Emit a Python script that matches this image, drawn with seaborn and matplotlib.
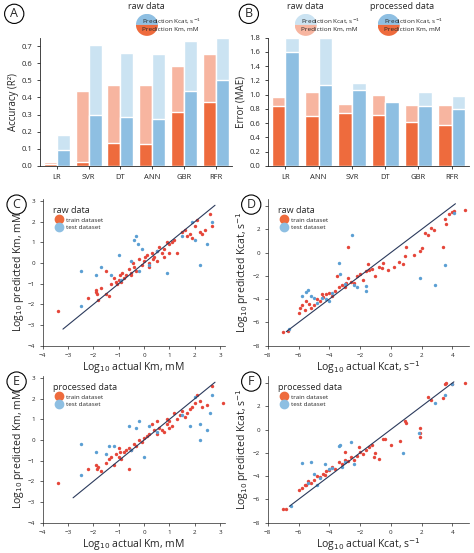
import numpy as np
import pandas as pd
import matplotlib
matplotlib.use("Agg")
import matplotlib.pyplot as plt
import seaborn as sns
from matplotlib.patches import Wedge
from matplotlib.lines import Line2D

sns.set_style("ticks")
plt.rcParams['font.family'] = ['Open Sans', 'DejaVu Sans']

# ---- data ----
models_A = ["LR", "SVR", "DT", "ANN", "GBR", "RFR"]
acc_km_raw = [0.01, 0.02, 0.135, 0.13, 0.315, 0.375]
acc_km_proc = [0.02, 0.435, 0.475, 0.475, 0.585, 0.655]
acc_kcat_raw = [0.095, 0.295, 0.285, 0.275, 0.435, 0.50]
acc_kcat_proc = [0.18, 0.705, 0.66, 0.655, 0.73, 0.75]

models_B = ["LR", "ANN", "SVR", "DT", "GBR", "RFR"]
mae_km_raw = [0.97, 1.04, 0.87, 0.99, 0.85, 0.85]
mae_km_proc = [0.84, 0.70, 0.74, 0.72, 0.62, 0.58]
mae_kcat_raw = [1.8, 1.8, 1.16, 0.90, 1.04, 0.98]
mae_kcat_proc = [1.6, 1.13, 1.06, 0.90, 0.84, 0.80]

c_train_x = [-3.4,-2.2,-1.9,-1.85,-1.8,-1.9,-1.7,-1.5,-1.4,-1.3,-1.2,-1.1,-1.05,-1.0,-0.95,-0.9,-0.85,-0.8,-0.7,-0.6,-0.5,-0.45,-0.4,-0.3,-0.2,-0.1,0.0,0.05,0.1,0.2,0.3,0.35,0.4,0.5,0.6,0.7,0.8,0.9,1.0,1.1,1.2,1.3,1.5,1.6,1.7,1.8,1.9,2.0,2.1,2.2,2.3,2.4,2.6,2.7,-0.5,0.2,0.5,1.0,-1.5,0.8]
c_train_y = [-2.3,-1.7,-1.3,-1.5,-1.8,-1.4,-1.2,-1.5,-1.6,-1.0,-0.7,-0.9,-1.0,-0.8,-0.6,-0.9,-0.5,-0.7,-0.6,-0.3,-0.5,0.0,-0.2,-0.4,0.2,-0.1,0.1,0.3,0.4,0.0,0.5,0.2,0.3,0.6,0.8,0.5,0.3,1.0,0.9,1.0,1.1,0.5,1.5,1.6,1.3,1.4,1.2,1.8,2.1,1.5,1.4,1.6,2.4,1.8,-0.6,-0.2,0.1,0.5,-0.4,0.7]
c_test_x = [-2.5,-2.5,-1.7,-1.9,-1.3,-1.0,-0.9,-0.4,-0.3,-0.25,-0.2,0.2,0.5,0.9,1.5,1.9,2.0,2.2,2.5,2.7,-0.5,-0.1]
c_test_y = [-0.4,-2.1,-0.2,-0.6,-0.6,0.4,-0.8,1.1,1.3,0.9,-0.4,-0.1,0.6,-0.5,1.3,2.0,1.1,-0.1,0.9,2.0,0.1,0.7]

d_train_x = [-7.0,-6.7,-6.0,-5.9,-5.8,-5.6,-5.5,-5.2,-5.0,-4.8,-4.6,-4.4,-4.2,-4.0,-3.8,-3.6,-3.4,-3.2,-3.0,-2.9,-2.8,-2.6,-2.4,-2.2,-2.0,-1.8,-1.6,-1.4,-1.2,-1.0,-0.8,-0.5,-0.2,0.2,0.5,0.8,0.9,1.0,1.5,1.9,2.0,2.2,2.4,2.6,2.8,3.4,3.5,3.6,3.8,4.0,4.1,4.8,-2.8,-5.3,-4.5,-3.5,-1.5,-0.6]
d_train_y = [-6.8,-6.7,-5.2,-4.8,-4.5,-4.9,-4.2,-4.8,-4.5,-4.0,-4.2,-3.8,-3.6,-3.5,-3.7,-3.3,-3.0,-2.8,-3.0,-2.6,-2.2,-2.5,-2.6,-2.0,-1.8,-2.4,-1.6,-1.5,-1.4,-2.0,-1.2,-0.9,-1.5,-1.2,-0.8,-1.0,-0.3,0.5,-0.2,0.1,0.4,1.7,1.5,2.1,1.9,0.5,2.9,2.5,3.3,3.5,3.6,3.7,0.5,-4.4,-3.6,-2.0,-1.0,-1.3]
d_test_x = [-6.6,-5.8,-5.5,-5.4,-5.2,-5.0,-4.8,-4.5,-4.2,-4.0,-3.8,-3.4,-3.3,-3.0,-2.5,-2.4,-2.2,-1.6,-1.6,1.9,2.9,3.5,4.1]
d_test_y = [-6.6,-3.7,-3.4,-3.2,-3.7,-3.9,-4.3,-3.9,-4.0,-4.2,-3.5,-0.9,-1.8,-2.7,1.5,-2.8,-3.0,-2.9,-3.3,-2.2,-2.8,-1.1,3.4]

e_train_x = [-3.4,-2.2,-1.9,-1.85,-1.8,-1.7,-1.5,-1.4,-1.3,-1.2,-1.1,-1.0,-0.95,-0.9,-0.8,-0.7,-0.6,-0.5,-0.4,-0.3,-0.2,-0.1,0.0,0.1,0.2,0.3,0.4,0.5,0.6,0.7,0.8,0.9,1.0,1.1,1.2,1.3,1.5,1.6,1.7,1.8,1.9,2.0,2.1,2.2,2.3,2.5,2.7,3.1,-0.6,0.5,1.0,-1.0,0.9,1.4]
e_train_y = [-2.1,-1.4,-1.2,-1.4,-1.3,-1.5,-1.1,-0.9,-0.8,-1.2,-0.7,-0.8,-0.6,-0.9,-0.6,-0.5,-0.4,-0.5,-0.2,-0.3,0.0,-0.1,0.1,0.2,0.3,0.8,0.5,0.9,0.6,0.5,0.4,0.8,0.9,0.7,1.3,1.0,1.4,1.1,1.3,1.5,1.6,1.8,2.2,1.9,1.6,1.7,2.6,1.8,-1.4,0.3,0.6,-0.4,1.0,1.2]
e_test_x = [-2.5,-2.5,-1.9,-1.5,-1.4,-1.2,-0.6,-0.5,-0.3,-0.2,0.0,0.2,0.5,1.5,1.8,2.0,2.2,2.2,2.5,2.6,2.7]
e_test_y = [-0.2,-1.7,-0.6,-0.7,-0.3,-0.3,0.7,-0.5,0.6,0.9,-0.8,0.7,0.4,1.2,0.7,2.1,0.8,0.0,0.5,1.3,2.2]

f_train_x = [-7.0,-6.8,-6.0,-5.8,-5.6,-5.4,-5.2,-5.0,-4.8,-4.6,-4.4,-4.2,-4.0,-3.8,-3.6,-3.4,-3.2,-3.0,-2.8,-2.6,-2.4,-2.2,-2.0,-1.8,-1.6,-1.4,-1.2,-1.0,-0.8,-0.5,-0.4,0.0,0.6,0.9,1.0,1.9,1.9,1.9,2.4,2.6,3.4,3.5,3.6,4.0,4.8,-4.3,-3.0,-2.1,-1.1,-5.5]
f_train_y = [-6.8,-6.8,-5.2,-5.0,-4.8,-4.4,-4.6,-4.3,-4.0,-4.1,-3.8,-3.6,-3.5,-3.2,-3.4,-2.8,-3.0,-2.6,-2.7,-2.4,-2.6,-2.3,-1.9,-2.1,-1.8,-1.5,-1.3,-2.0,-2.5,-0.8,-0.8,-1.3,-1.0,0.7,0.6,0.1,-0.3,-0.6,2.8,2.5,2.7,3.9,4.0,3.9,4.0,-3.9,-1.9,-1.5,-2.4,-4.8]
f_test_x = [-6.5,-5.8,-5.4,-5.2,-5.0,-4.8,-4.6,-4.3,-4.0,-3.8,-3.4,-3.3,-3.2,-3.0,-2.6,-2.4,0.8,1.8,2.9,3.5,4.0]
f_test_y = [-6.6,-2.9,-4.6,-2.8,-3.8,-4.8,-4.2,-3.0,-3.4,-3.3,-1.4,-1.3,-3.2,-2.8,-1.1,-3.0,-2.0,-0.3,2.3,3.0,3.9]

ORANGE = "#EE6B3D"
LORANGE = "#F7B5A0"
BLUE = "#8EBFE2"
LBLUE = "#CBE3F2"
NAVY = "#2B3A5C"

W, H = 4.74, 5.53
fig = plt.figure(figsize=(W, H), dpi=100)

def bars(ax, models, km_hi, kcat_hi, km_lo, kcat_lo, hi_cols, lo_cols):
    for km, kc, cols in [(km_hi, kcat_hi, hi_cols), (km_lo, kcat_lo, lo_cols)]:
        df = pd.DataFrame({"model": models * 2,
                           "val": list(km) + list(kc),
                           "kind": ["Km"] * len(models) + ["Kcat"] * len(models)})
        sns.barplot(data=df, x="model", y="val", hue="kind", order=models,
                    hue_order=["Km", "Kcat"], palette=cols, width=0.82,
                    gap=0, saturation=1, ax=ax, legend=False, errorbar=None)
    ax.set_xlabel("")
    ax.tick_params(labelsize=5.5, length=2, width=0.6)
    for s in ["top", "right"]:
        ax.spines[s].set_visible(False)
    ax.spines["bottom"].set_linewidth(0.6)
    ax.spines["left"].set_linewidth(0.6)
    ax.margins(x=0.02)

axA = fig.add_axes([0.085, 0.70, 0.405, 0.232])
bars(axA, models_A, acc_km_proc, acc_kcat_proc, acc_km_raw, acc_kcat_raw,
     [LORANGE, LBLUE], [ORANGE, BLUE])
axA.set_ylim(0, 0.75)
axA.set_yticks(np.arange(0, 0.71, 0.1))
axA.set_yticklabels([f"{v:.1f}" for v in np.arange(0, 0.71, 0.1)])
axA.set_ylabel("Accuracy (R²)", fontsize=7, labelpad=2)

axB = fig.add_axes([0.565, 0.70, 0.425, 0.232])
bars(axB, models_B, mae_km_raw, mae_kcat_raw, mae_km_proc, mae_kcat_proc,
     [LORANGE, LBLUE], [ORANGE, BLUE])
axB.set_ylim(0, 1.8)
axB.set_yticks(np.arange(0, 1.81, 0.2))
axB.set_yticklabels([f"{v:.1f}" for v in np.arange(0, 1.81, 0.2)])
axB.set_ylabel("Error (MAE)", fontsize=7, labelpad=2)

def scatter(ax, tx, ty, sx, sy, title, lims, xlim, ylim, xt, yt, xl, yl):
    sns.scatterplot(x=tx, y=ty, color="#E5463A", s=6, linewidth=0, ax=ax)
    sns.scatterplot(x=sx, y=sy, color="#5B9FD3", s=6, linewidth=0, ax=ax)
    sns.lineplot(x=lims[0], y=lims[1], color=NAVY, lw=0.8, ax=ax)
    ax.set_xlim(*xlim); ax.set_ylim(*ylim)
    ax.set_xticks(xt); ax.set_yticks(yt)
    ax.tick_params(labelsize=4.5, length=2, width=0.5)
    for s in ["top", "right"]:
        ax.spines[s].set_visible(False)
    for s in ["bottom", "left"]:
        ax.spines[s].set_linewidth(0.5)
    ax.set_xlabel(xl, fontsize=7.5, labelpad=1)
    ax.set_ylabel(yl, fontsize=7.5, labelpad=1)
    h = [Line2D([], [], marker="o", ls="", color=ORANGE, ms=6),
         Line2D([], [], marker="o", ls="", color=BLUE, ms=6)]
    leg = ax.legend(h, ["train dataset", "test dataset"], title=title,
                    loc="upper left", frameon=False, fontsize=4.5,
                    title_fontsize=6.5, handletextpad=0.1, borderaxespad=0.3,
                    labelspacing=0.3, bbox_to_anchor=(0.03, 0.98))
    leg._legend_box.align = "left"

km_xl = r"Log$_{10}$ actual Km, mM"
km_yl = r"Log$_{10}$ predicted Km, mM"
kc_xl = r"Log$_{10}$ actual Kcat, s$^{-1}$"
kc_yl = r"Log$_{10}$ predicted Kcat, s$^{-1}$"

axC = fig.add_axes([0.09, 0.375, 0.385, 0.265])
scatter(axC, c_train_x, c_train_y, c_test_x, c_test_y, "raw data",
        ([-3.2, 2.8], [-3.2, 2.8]), (-4, 3.2), (-4, 3.1), range(-4, 4), range(-4, 4), km_xl, km_yl)
axD = fig.add_axes([0.565, 0.375, 0.425, 0.265])
scatter(axD, d_train_x, d_train_y, d_test_x, d_test_y, "raw data",
        ([-6.8, 4.2], [-6.8, 4.2]), (-8, 5.1), (-8, 4.6), range(-8, 5, 2), range(-8, 5, 2), kc_xl, kc_yl)
axE = fig.add_axes([0.09, 0.055, 0.385, 0.265])
scatter(axE, e_train_x, e_train_y, e_test_x, e_test_y, "processed data",
        ([-2.8, 2.8], [-2.8, 2.8]), (-4, 3.2), (-4, 3.1), range(-4, 4), range(-4, 4), km_xl, km_yl)
axF = fig.add_axes([0.565, 0.055, 0.425, 0.265])
scatter(axF, f_train_x, f_train_y, f_test_x, f_test_y, "processed data",
        ([-6.6, 4.1], [-6.6, 4.1]), (-8, 5.1), (-8, 4.6), range(-8, 5, 2), range(-8, 5, 2), kc_xl, kc_yl)

# panel letters
for lab, x, y in [("A", 0.03, 0.975), ("B", 0.525, 0.975), ("C", 0.035, 0.63),
                  ("D", 0.53, 0.63), ("E", 0.035, 0.31), ("F", 0.53, 0.31)]:
    fig.text(x, y, lab, fontsize=9, ha="center", va="center",
             bbox=dict(boxstyle="circle,pad=0.25", fc="white", ec="black", lw=0.8))

# bar legends
def halfcircle(xc, yc, top, bot, rpx=11):
    rw, rh = rpx / (W * 100), rpx / (H * 100)
    ax = fig.add_axes([xc - rw, yc - rh, 2 * rw, 2 * rh])
    ax.set_xlim(-1, 1); ax.set_ylim(-1, 1); ax.axis("off")
    ax.add_patch(Wedge((0, 0), 1, 0, 180, color=top, lw=0))
    ax.add_patch(Wedge((0, 0), 1, 180, 360, color=bot, lw=0))

def barlegend(x0, title, top, bot):
    fig.text(x0 - 0.02, 0.988, title, fontsize=6.5, va="center")
    halfcircle(x0 + 0.02, 0.955, top, bot)
    fig.text(x0 + 0.01, 0.963, "Prediction Kcat, s$^{-1}$", fontsize=4.6, va="center")
    fig.text(x0 + 0.01, 0.947, "Prediction Km, mM", fontsize=4.6, va="center")

barlegend(0.29, "raw data", BLUE, ORANGE)
barlegend(0.83 - 0.01 - 0.01 + 0.0 - 0.54 + 0.54 - 0.0 - 0.01 - 0.0 - 0.0 - 0.0 - 0.25 + 0.0 , "", LBLUE, LORANGE) if False else None
barlegend(0.2 + 0.265 - 0.19, "", BLUE, ORANGE) if False else None
barlegend(0.625, "raw data", LBLUE, LORANGE)
barlegend(0.80, "processed data", BLUE, ORANGE)
barlegend(0.29 - 0.17, "", BLUE, ORANGE) if False else None
fig.texts[-1 - 0].get_text()
# panel A processed legend
barlegend(0.29 - 0.0 + 0.0, "", BLUE, ORANGE) if False else None
barlegend(0.115 + 0.175, "", LBLUE, LORANGE) if False else None
fig.savefig("out.png", dpi=100)
